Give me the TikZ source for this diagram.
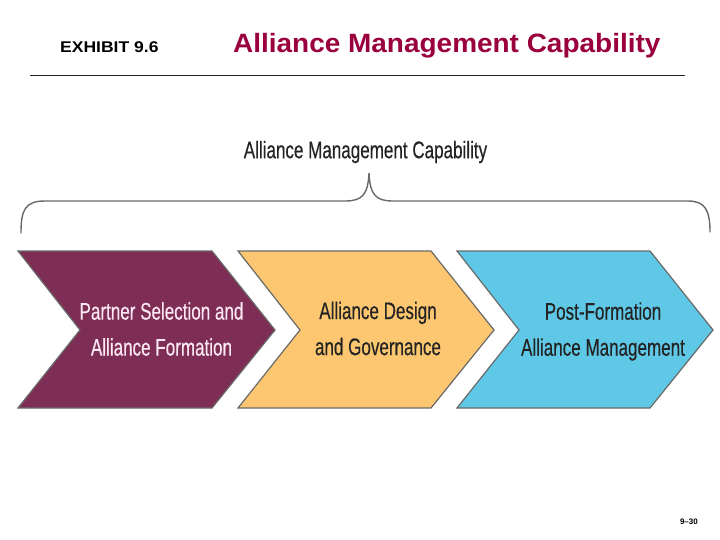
\documentclass[tikz,border=0pt]{standalone}
\usepackage{fontspec}
\setmainfont{Liberation Sans}
\newfontfamily\medf[FakeBold=0.45]{Liberation Sans}
\usepackage{graphicx}
\definecolor{plum}{RGB}{126,46,85}
\definecolor{sand}{RGB}{252,199,112}
\definecolor{sky}{RGB}{95,200,230}
\definecolor{crim}{RGB}{153,0,61}
\definecolor{edge}{RGB}{105,105,105}
\definecolor{ink}{RGB}{35,35,35}
\tikzset{
  chev/.style={draw=edge, line width=1.2pt, line join=miter},
  lbl/.style={align=center, font=\medf\fontsize{24}{36}\selectfont, inner sep=0pt},
}
\newcommand{\cond}[1]{\scalebox{0.71}[1]{#1}}
\begin{document}
\begin{tikzpicture}[x=1pt,y=-1pt]
\useasboundingbox (0,0) rectangle (720,540);
% header
\node[anchor=west, inner sep=0pt, font=\bfseries\fontsize{15.5}{18}\selectfont] (exh) at (60,47) {\scalebox{1.13}[1]{EXHIBIT 9.6}};
\node[anchor=west, inner sep=0pt, text=crim, font=\bfseries\fontsize{26.5}{30}\selectfont] (ttl) at (233,46) {\scalebox{1.055}[1]{Alliance Management Capability}};
\coordinate (r1) at (30,75);
\coordinate (r2) at (685,75);
\draw[line width=0.9pt, ink] (r1) -- (r2);
% chevrons
\draw[chev, fill=plum] (18,251) -- (212,251) -- (275,330) -- (212,408) -- (18,408) -- (80,330) -- cycle;
\draw[chev, fill=sand] (238,251) -- (431,251) -- (494,330) -- (431,408) -- (238,408) -- (300,330) -- cycle;
\draw[chev, fill=sky] (457,251) -- (650,251) -- (713,330) -- (650,408) -- (457,408) -- (519,330) -- cycle;
\node[lbl, text={rgb,255:red,252;green,232;blue,242}] (c1) at (161.5,329) {\cond{Partner Selection and}\\\cond{Alliance Formation}};
\node[lbl, text=ink] (c2) at (378,328.5) {\cond{Alliance Design}\\\cond{and Governance}};
\node[lbl, text=ink] (c3) at (603,331.5) {\cond{Post-Formation}\\\cond{Alliance Management}};
% brace
\coordinate (bl) at (21,233);
\coordinate (br) at (710,232);
\coordinate (bc) at (369,173);
\draw[edge, line width=1.4pt, line cap=round]
  (bl) .. controls (21,210) and (25,201) .. (45,201) -- (345,201)
  .. controls (362,201) and (368,195) .. (bc)
  .. controls (370,195) and (376,201) .. (393,201) -- (688,201)
  .. controls (705,201) and (710,210) .. (br);
\node[inner sep=0pt, text=ink, font=\medf\fontsize{24}{26}\selectfont] (top) at (365.5,152) {\cond{Alliance Management Capability}};
% page number
\node[anchor=east, inner sep=0pt, font=\bfseries\fontsize{8}{10}\selectfont] (pg) at (698,522) {9--30};
\end{tikzpicture}
\end{document}
